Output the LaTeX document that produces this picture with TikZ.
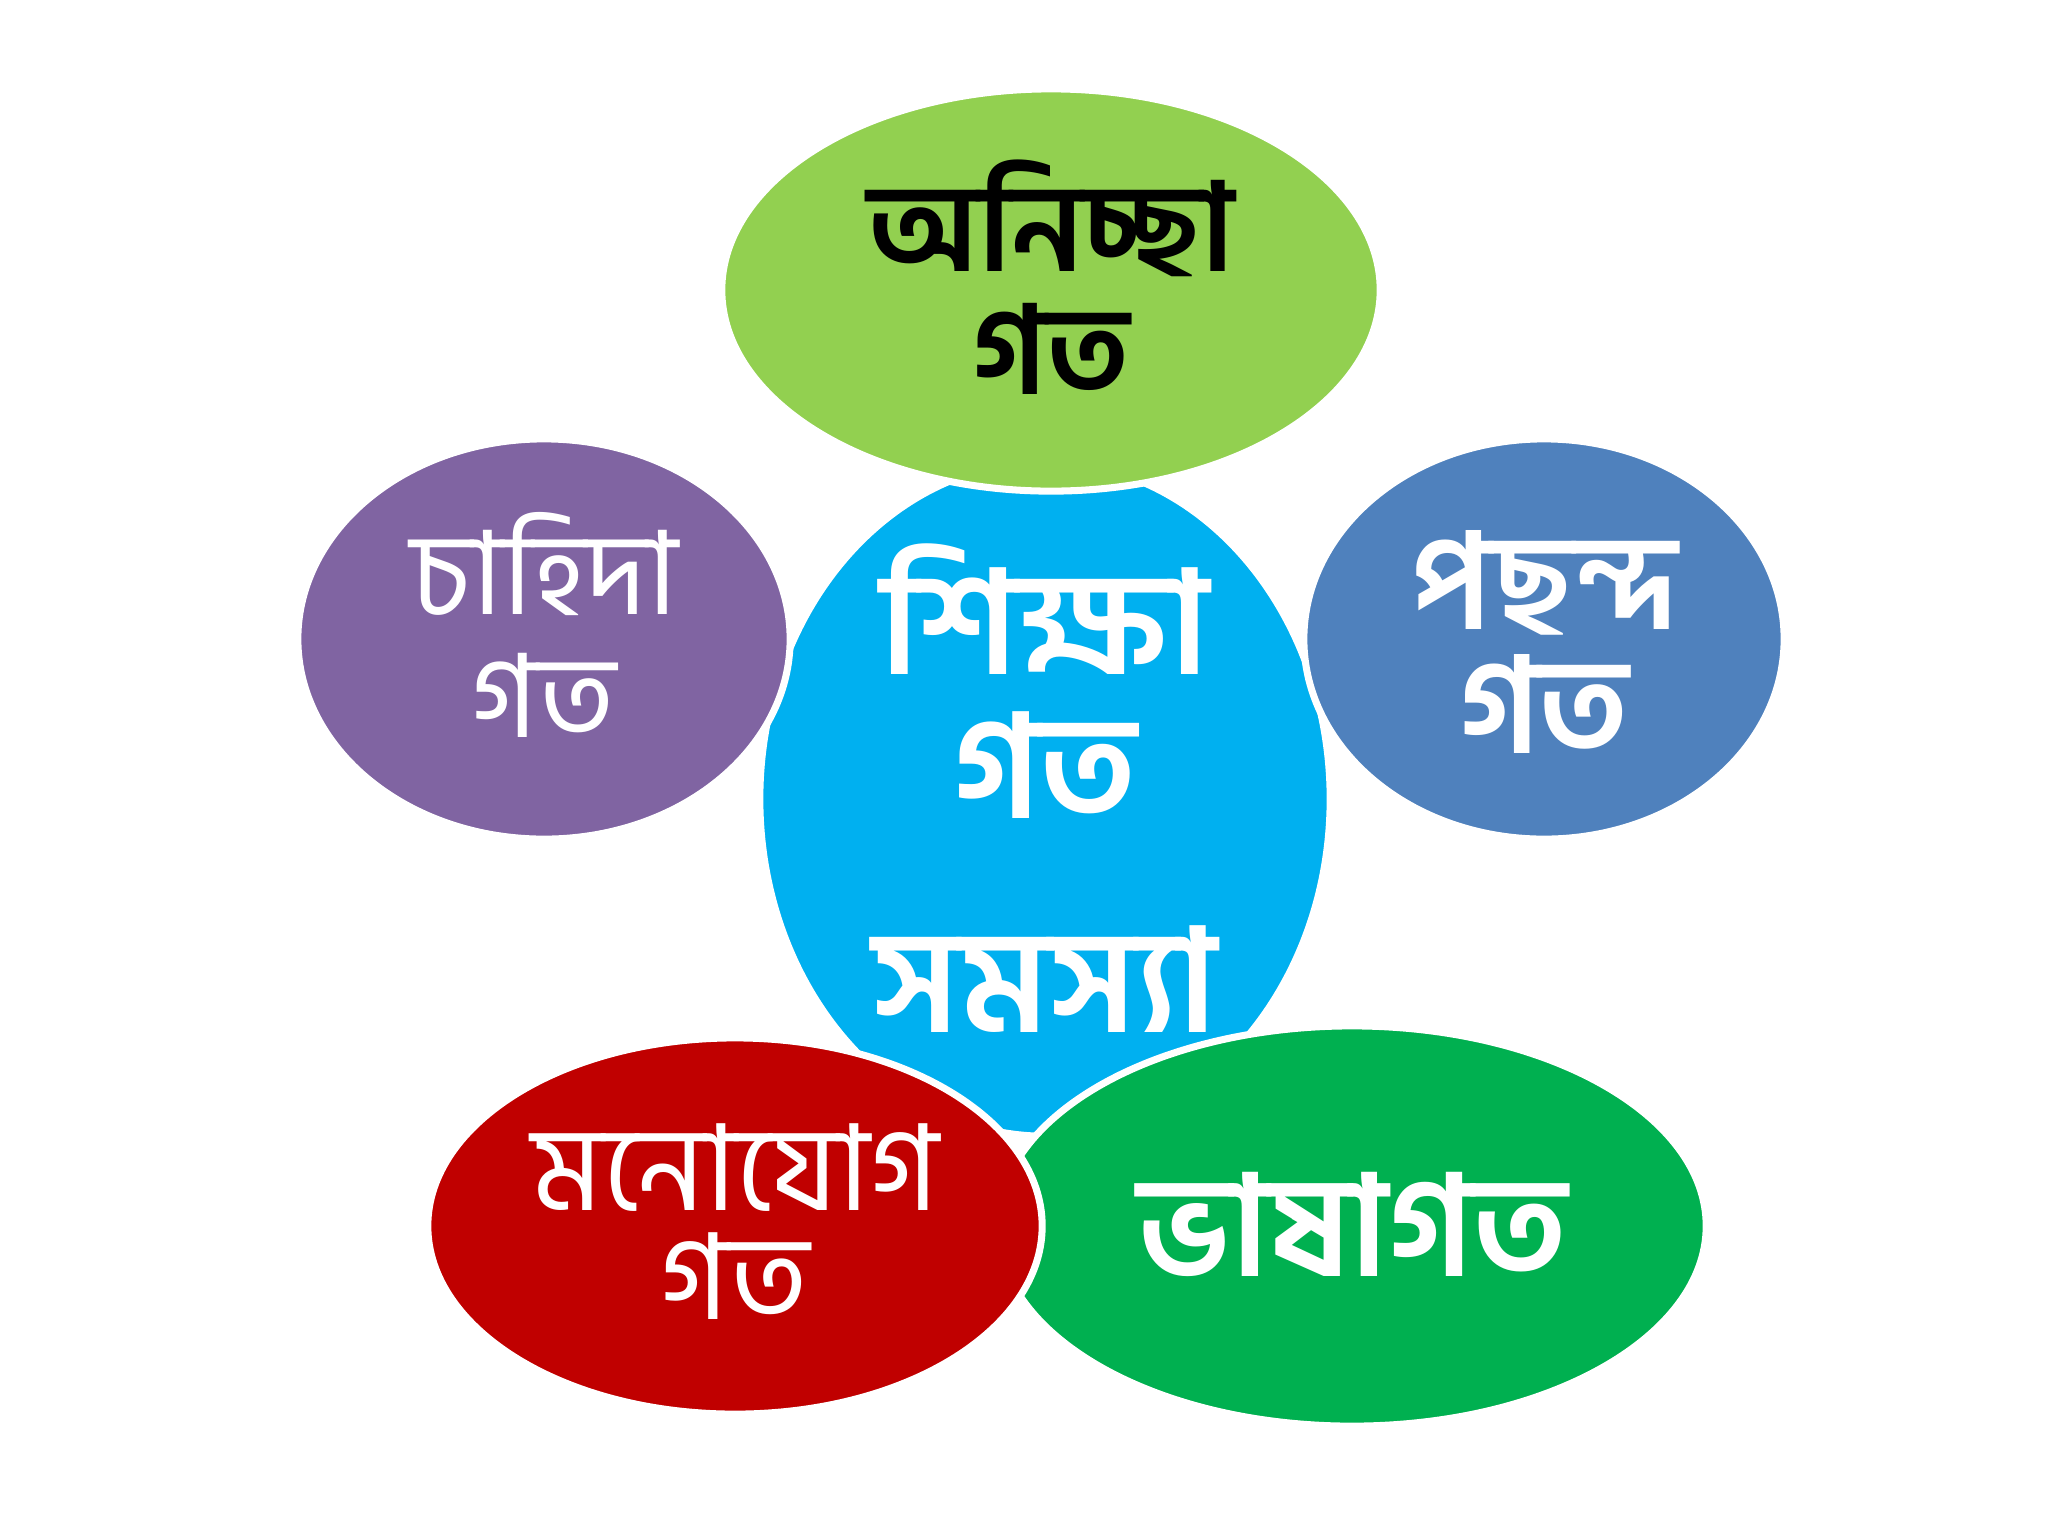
\documentclass[tikz,border=0pt]{standalone}
\usepackage{fontspec}
\newfontfamily\bn[Script=Bengali]{Hind Siliguri}
\usetikzlibrary{shapes.geometric}
\definecolor{leafgreen}{HTML}{92D050}
\definecolor{skyblue}{HTML}{00B0F0}
\definecolor{plum}{HTML}{8064A2}
\definecolor{steelblue}{HTML}{4F81BD}
\definecolor{darkred}{HTML}{C00000}
\definecolor{grassgreen}{HTML}{00B050}
\begin{document}
\begin{tikzpicture}[x=0.01cm,y=-0.01cm,
    blob/.style={ellipse, draw=white, line width=2pt, inner sep=0pt},
    word/.style={inner sep=0pt, align=center, text=white}]
  \fill[white] (0,0) rectangle (2048,1536);
  % centre
  \node[blob, fill=skyblue, minimum width=5.7cm, minimum height=6.74cm] (siksha) at (1045,799) {};
  \node[word, font=\bn\bfseries\fontsize{41}{41}\selectfont] (siksha-t) at (1045,788)
        {শিক্ষা\\গত\\[20pt]সমস্যা};
  % around it
  \node[blob, fill=leafgreen, minimum width=6.58cm, minimum height=4.02cm] (anichha) at (1051,290) {};
  \node[word, text=black, font=\bn\bfseries\fontsize{35}{35}\selectfont] (anichha-t) at (1051,277) {অনিচ্ছা\\গত};
  \node[blob, fill=plum, minimum width=4.92cm, minimum height=4cm] (chahida) at (544,639) {};
  \node[word, font=\bn\fontsize{33}{35}\selectfont] (chahida-t) at (544,625) {চাহিদা\\গত};
  \node[blob, fill=steelblue, minimum width=4.8cm, minimum height=4cm] (pochhondo) at (1544,639) {};
  \node[word, font=\bn\bfseries\fontsize{38}{35}\selectfont] (pochhondo-t) at (1544,642) {পছন্দ\\গত};
  \node[blob, fill=grassgreen, minimum width=7.08cm, minimum height=4cm] (bhasha) at (1352,1226) {};
  \node[word, font=\bn\bfseries\fontsize{40}{40}\selectfont] (bhasha-t) at (1352,1224) {ভাষাগত};
  \node[blob, fill=darkred, minimum width=6.14cm, minimum height=3.76cm] (monojog) at (735,1226) {};
  \node[word, font=\bn\fontsize{34}{31}\selectfont] (monojog-t) at (735,1222) {মনোযোগ\\গত};
\end{tikzpicture}
\end{document}
